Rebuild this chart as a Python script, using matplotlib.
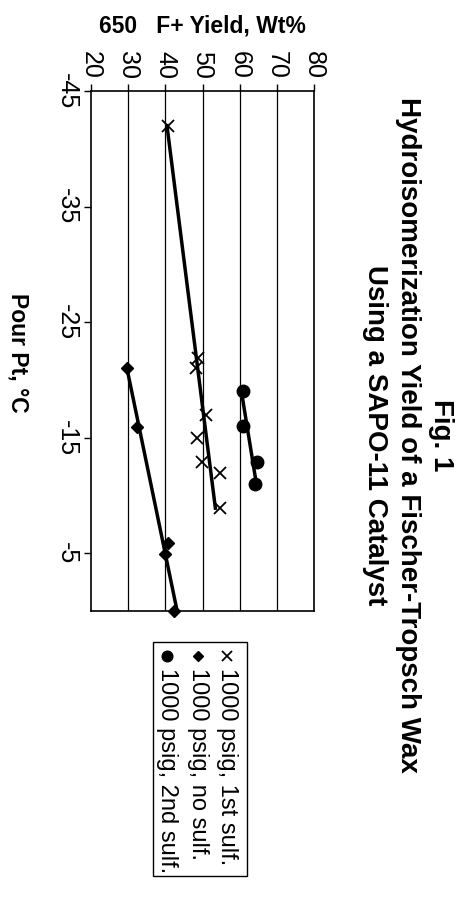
import numpy as np
import matplotlib
matplotlib.use("Agg")
import matplotlib.pyplot as plt
from matplotlib.patches import Rectangle

FONT = ['Liberation Sans', 'DejaVu Sans']

title_lines = ["Fig. 1", "Hydroisomerization Yield of a Fischer-Tropsch Wax", "Using a SAPO-11 Catalyst"]
x_label = "650   F+ Yield, Wt%"
y_label = "Pour Pt, °C"
yield_ticks = [20, 30, 40, 50, 60, 70, 80]
pour_ticks = [-45, -35, -25, -15, -5]

s1_name = "1000 psig, 1st sulf."
s1_yield = [40.7, 48.9, 48.3, 51.0, 48.6, 49.8, 54.6, 54.6]
s1_pour = [-42.0, -21.9, -21.0, -17.0, -15.0, -12.9, -11.9, -8.9]
s2_name = "1000 psig, no sulf."
s2_yield = [29.8, 32.3, 40.7, 40.0, 42.4]
s2_pour = [-21.0, -15.9, -5.9, -4.9, 0.0]
s3_name = "1000 psig, 2nd sulf."
s3_yield = [60.9, 60.9, 64.6, 64.1]
s3_pour = [-19.0, -16.0, -12.9, -11.0]

W, H = 474, 922
fig = plt.figure(figsize=(W/100, H/100), dpi=100)
ax = fig.add_axes([91/W, 1-611/H, (314-91)/W, (611-91)/H])
ax.set_xlim(20, 80)
ax.set_ylim(0, -45)
ax.xaxis.tick_top()
ax.set_xticks(yield_ticks)
ax.set_yticks(pour_ticks)
ax.set_xticklabels([str(v) for v in yield_ticks], rotation=-90, family=FONT, fontsize=18)
ax.set_yticklabels([str(v) for v in pour_ticks], rotation=-90, family=FONT, fontsize=18, va='center')
ax.tick_params(direction='out', length=5, width=1, colors='black', pad=4)
for sp in ax.spines.values():
    sp.set_linewidth(1.2)
for g in yield_ticks[1:-1]:
    ax.axvline(g, color='black', lw=0.9, zorder=0)

specs = [(s1_yield, s1_pour, 'x', 9, 1.3), (s2_yield, s2_pour, 'D', 6, 1), (s3_yield, s3_pour, 'o', 9, 1)]
for yv, pv, m, ms, mew in specs:
    yv = np.array(yv); pv = np.array(pv)
    a, b = np.polyfit(pv, yv, 1)
    pr = np.array([pv.min(), pv.max()])
    ax.plot(a*pr + b, pr, color='black', lw=2.5, zorder=2)
    ax.plot(yv, pv, m, color='black', ms=ms, mew=mew, clip_on=False, zorder=3)

fig.text(202/W, 1-26/H, x_label, ha='center', va='center', fontsize=16.5, fontweight='bold', family=FONT)
fig.text(18/W, 1-353/H, y_label, ha='center', va='center', rotation=-90, fontsize=16.5, fontweight='bold', family=FONT)
for xpos, line in zip([441, 408, 375], title_lines):
    fig.text(xpos/W, 1-435/H, line, ha='center', va='center', rotation=-90, fontsize=20, fontweight='bold', family=FONT)

# legend (manual, rotated)
ov = fig.add_axes([0, 0, 1, 1], facecolor='none')
ov.set_xlim(0, W); ov.set_ylim(H, 0); ov.axis('off')
ov.add_patch(Rectangle((153, 642), 94, 234, fill=False, lw=1, ec='black'))
for xpos, (yv, pv, m, ms, mew), name in zip([227, 198, 167], specs, [s1_name, s2_name, s3_name]):
    ov.plot([xpos], [656], m, color='black', ms=ms*0.85, mew=mew)
    ov.text(xpos, 668, name, rotation=-90, ha='center', va='top', fontsize=17, family=FONT)

fig.savefig("out.png", dpi=100, facecolor='white')
